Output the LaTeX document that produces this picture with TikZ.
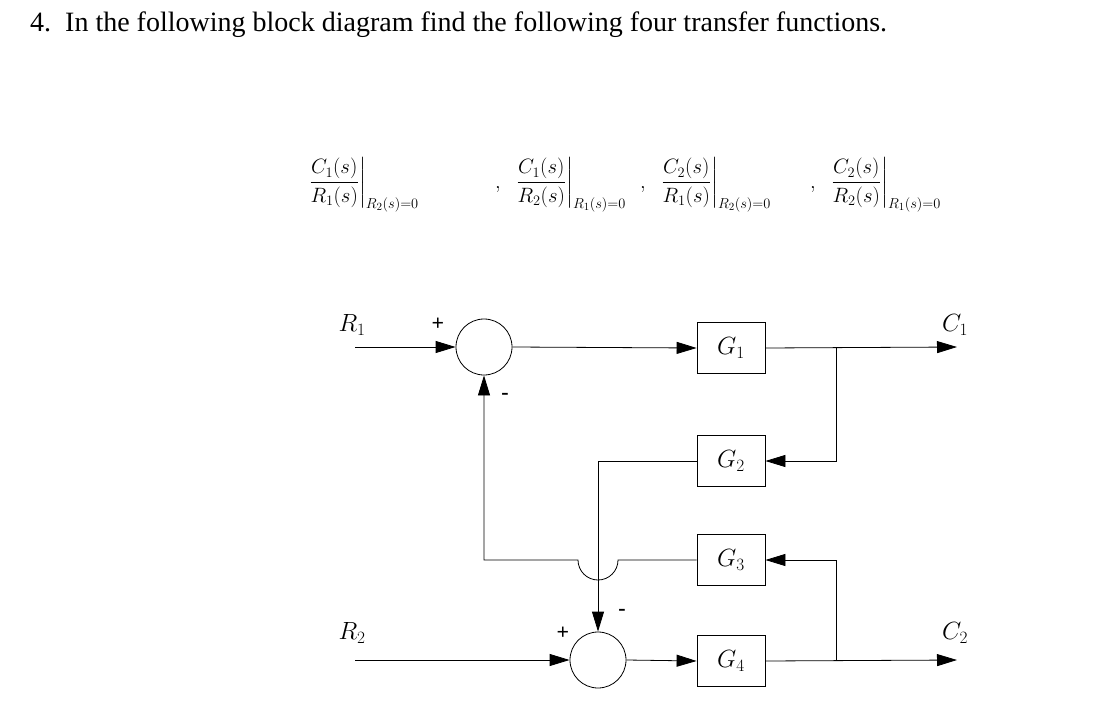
\documentclass[tikz,border=0pt]{standalone}
\usepackage{amsmath}
\usepackage{fontspec}
\setmainfont{Liberation Serif}
\usetikzlibrary{arrows.meta}
\begin{document}
\begin{tikzpicture}[x=1pt,y=-1pt,
  blk/.style={draw,line width=0.8pt,minimum width=68pt,minimum height=51pt,font=\fontsize{26}{28}\selectfont},
  sum/.style={draw,circle,line width=0.8pt,minimum size=56pt,inner sep=0pt},
  ln/.style={line width=0.8pt},
  ar/.style={ln,-{Triangle[length=20pt,width=12pt]}},
  sg/.style={font=\bfseries\fontsize{22}{22}\selectfont},
  lb/.style={font=\fontsize{24}{26}\selectfont},
  eq/.style={anchor=west,font=\fontsize{22}{24}\selectfont,inner sep=0pt}]
\useasboundingbox (0,0) rectangle (1100,714);
\node[anchor=west,font=\fontsize{28}{30}\selectfont,inner sep=0pt] (title) at (30,25) {4.\ \ In the following block diagram find the following four transfer functions.};
\node[eq] (f1) at (308,185) {$\left.\dfrac{C_1(s)}{R_1(s)}\right|_{R_2(s)=0}$};
\node[eq] (f2) at (495,185) {$,\ \ \left.\dfrac{C_1(s)}{R_2(s)}\right|_{R_1(s)=0}$};
\node[eq] (f3) at (640,185) {$,\ \ \left.\dfrac{C_2(s)}{R_1(s)}\right|_{R_2(s)=0}$};
\node[eq] (f4) at (810,185) {$,\ \ \left.\dfrac{C_2(s)}{R_2(s)}\right|_{R_1(s)=0}$};

\node[sum] (s1) at (484,347) {};
\node[sum] (s2) at (598,660) {};
\node[blk] (g1) at (731,348) {$G_1$};
\node[blk] (g2) at (731,461) {$G_2$};
\node[blk] (g3) at (731,560) {$G_3$};
\node[blk] (g4) at (731,661) {$G_4$};
\coordinate (r1) at (355,347);
\coordinate (r2) at (355,660);
\coordinate (c1) at (957,347);
\coordinate (c2) at (957,660);
\coordinate (b1) at (836,347);
\coordinate (b2) at (836,660);
\node[lb] (lr1) at (352,325) {$R_1$};
\node[lb] (lr2) at (352,633) {$R_2$};
\node[lb] (lc1) at (955,325) {$C_1$};
\node[lb] (lc2) at (955,633) {$C_2$};
\node[sg] (p1) at (438,324) {+};
\node[sg] (m1) at (505,396) {-};
\node[sg] (p2) at (563,633) {+};
\node[sg] (m2) at (622,612) {-};

\draw[ar] (r1) -- (s1.west);
\draw[ar] (s1.east) -- (g1.west);
\draw[ar] (g1.east) -- (c1);
\draw[ar] (b1) |- (g2.east);
\draw[ar] (g2.west) -| (s2.north);
\draw[ar] (b2) |- (g3.east);
\draw[ar] (g3.west) -- (618,560) arc[start angle=0,end angle=180,radius=20] -- (484,560) -- (s1.south);
\draw[ar] (r2) -- (s2.west);
\draw[ar] (s2.east) -- (g4.west);
\draw[ar] (g4.east) -- (c2);
\end{tikzpicture}
\end{document}
